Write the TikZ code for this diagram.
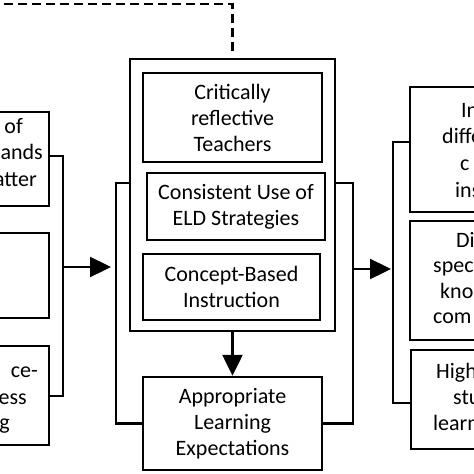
\documentclass[tikz,border=0pt]{standalone}
\usepackage{fontspec}
\setmainfont{Carlito}
\usepackage{tikz}
\usetikzlibrary{arrows.meta, positioning}

\begin{document}
\begin{tikzpicture}[x=1pt, y=-1pt,
        box/.style={draw, line width=2.4pt, align=center, inner sep=0pt, font=\fontsize{22}{26}\selectfont},
        frag/.style={inner sep=0pt, font=\fontsize{22}{26}\selectfont},
        link/.style={line width=2.4pt},
        arrow/.style={line width=2.4pt, -{Triangle[length=21pt, width=20pt]}},
        feedback/.style={line width=2.4pt, dash pattern=on 9pt off 5pt}
    ]
        \useasboundingbox (0,0) rectangle (474,474);

        % center column
        \node[box, minimum width=205pt, minimum height=272pt] (ctr) at (232.5,195) {};
        \node[box, minimum width=179pt, minimum height=89pt] (crit) at (232.5,117.5) {Critically\\reflective\\Teachers};
        \node[box, minimum width=178pt, minimum height=67pt] (eld) at (236,206.5) {Consistent Use of\\ELD Strategies};
        \node[box, minimum width=177pt, minimum height=66pt] (cbi) at (231.5,287) {Concept-Based\\Instruction};
        \node[box, minimum width=179pt, minimum height=93pt] (ale) at (232.5,423.5) {Appropriate\\Learning\\Expectations};

        % left column (cut off by the page edge)
        \node[box, minimum width=90pt, minimum height=94pt] (know) at (4,159) {};
        \node[box, minimum width=90pt, minimum height=85pt] (midl) at (4,275.5) {};
        \node[box, minimum width=90pt, minimum height=99pt] (asse) at (4,395.5) {};
        \node[frag, anchor=base east] (know1) at (23,133) {of};
        \node[frag, anchor=base east] (know2) at (43,159) {ands};
        \node[frag, anchor=base east] (know3) at (37,186) {atter};
        \node[frag, anchor=base east] (asse1) at (38,377) {ce-};
        \node[frag, anchor=base east] (asse2) at (27,404) {ess};
        \node[frag, anchor=base east] (asse3) at (10,429) {g};

        % right column (cut off by the page edge)
        \node[box, minimum width=100pt, minimum height=125pt] (diff) at (460,149.5) {};
        \node[box, minimum width=100pt, minimum height=119pt] (disc) at (460,280.5) {};
        \node[box, minimum width=100pt, minimum height=99pt] (high) at (461,399.5) {};
        \node[frag, anchor=base west] (diff1) at (461,117) {In};
        \node[frag, anchor=base west] (diff2) at (442,143) {diffe};
        \node[frag, anchor=base west] (diff3) at (460,170) {c};
        \node[frag, anchor=base west] (diff4) at (455,197) {ins};
        \node[frag, anchor=base west] (disc1) at (456,247) {Di};
        \node[frag, anchor=base west] (disc2) at (433,272) {spec};
        \node[frag, anchor=base west] (disc3) at (440,298) {kno};
        \node[frag, anchor=base west] (disc4) at (433,323) {com};
        \node[frag, anchor=base west] (high1) at (436,378) {High};
        \node[frag, anchor=base west] (high2) at (453,404) {stu};
        \node[frag, anchor=base west] (high3) at (433,430) {learn};

        \coordinate (fb) at (-5,4);
        \coordinate (lbr) at (63,267);
        \coordinate (ltip) at (111,267);
        \coordinate (rbr) at (352,269);
        \coordinate (rtip) at (391,269);

        % brackets
        \draw[link] (know.east |- 0,156) -- (63,156) |- (asse.east |- 0,396);
        \draw[link] ([yshift=12pt]ctr.west) -- ++(-13,0) |- (ale.west);
        \draw[link] ([yshift=12pt]ctr.east) -- ++(17,0) |- (ale.east);
        \draw[link] (diff.west |- 0,142) -- ++(-16,0) |- (high.west |- 0,403);

        % arrows
        \draw[arrow] (lbr) -- (ltip);
        \draw[arrow] (rbr) -- (rtip);
        \draw[arrow] (ctr.south) -- (ale.north);
        \draw[feedback, shorten <=7pt] (ctr.north) |- (fb);
    \end{tikzpicture}
\end{document}
